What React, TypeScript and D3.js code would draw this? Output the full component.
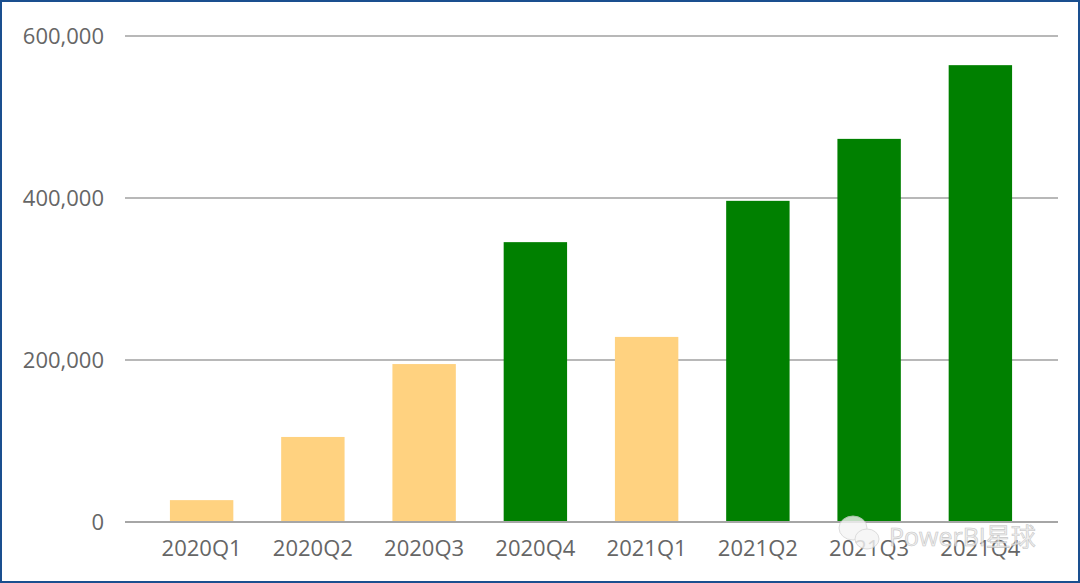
import React, { useEffect, useRef } from "react";
import * as d3 from "d3";

const quarters = ["2020Q1", "2020Q2", "2020Q3", "2020Q4", "2021Q1", "2021Q2", "2021Q3", "2021Q4"];
const sales = [27000, 105000, 195000, 345500, 228500, 396500, 473000, 564000];
const highlighted = [false, false, false, true, false, true, true, true];
const yTicks = [0, 200000, 400000, 600000];

const W = 1080;
const H = 583;

export default function App() {
  const ref = useRef<SVGSVGElement | null>(null);

  useEffect(() => {
    const svg = d3.select(ref.current);
    svg.selectAll("*").remove();

    const x = d3
      .scaleBand<string>()
      .domain(quarters)
      .range([146, 1036])
      .paddingInner(0.43)
      .paddingOuter(0.215);
    const y = d3.scaleLinear().domain([0, 600000]).range([522, 36]);

    svg.append("rect").attr("width", W).attr("height", H).attr("fill", "#fff");

    // gridlines
    svg
      .append("g")
      .selectAll("line")
      .data(yTicks)
      .join("line")
      .attr("x1", 125)
      .attr("x2", 1058)
      .attr("y1", (d) => y(d))
      .attr("y2", (d) => y(d))
      .attr("stroke", (d) => (d === 0 ? "#a6a6a6" : "#a0a0a0"))
      .attr("stroke-width", (d) => (d === 0 ? 2 : 1.3));

    // y labels
    svg
      .append("g")
      .selectAll("text")
      .data(yTicks)
      .join("text")
      .attr("x", 104)
      .attr("y", (d) => y(d))
      .attr("dy", "0.36em")
      .attr("text-anchor", "end")
      .attr("font-family", "'Open Sans', sans-serif")
      .attr("font-size", 22)
      .attr("fill", "#666")
      .text((d) => d3.format(",")(d));

    // bars
    svg
      .append("g")
      .selectAll("rect")
      .data(quarters)
      .join("rect")
      .attr("x", (d) => x(d)!)
      .attr("width", x.bandwidth())
      .attr("y", (_, i) => y(sales[i]))
      .attr("height", (_, i) => y(0) - y(sales[i]) - 1)
      .attr("fill", (_, i) => (highlighted[i] ? "#008000" : "#FFD280"));

    // x labels
    svg
      .append("g")
      .selectAll("text")
      .data(quarters)
      .join("text")
      .attr("x", (d) => x(d)! + x.bandwidth() / 2)
      .attr("y", 556)
      .attr("text-anchor", "middle")
      .attr("font-family", "'Open Sans', sans-serif")
      .attr("font-size", 22)
      .attr("fill", "#666")
      .text((d) => d);

    // watermark
    const wm = svg.append("g").attr("opacity", 0.8);
    wm.append("ellipse").attr("cx", 853).attr("cy", 528).attr("rx", 14).attr("ry", 12)
      .attr("fill", "#f4f4f4").attr("stroke", "#d4d4d4");
    wm.append("ellipse").attr("cx", 867).attr("cy", 539).attr("rx", 12).attr("ry", 10)
      .attr("fill", "#f4f4f4").attr("stroke", "#d4d4d4");
    wm.append("text")
      .attr("x", 889)
      .attr("y", 546)
      .attr("font-family", "'Open Sans', 'Noto Sans CJK SC', sans-serif")
      .attr("font-size", 25)
      .attr("fill", "#ececec")
      .attr("stroke", "#b8b8b8")
      .attr("stroke-width", 0.6)
      .text("PowerBI星球");

    // frame
    svg.append("rect").attr("x", 1).attr("y", 1).attr("width", W - 2).attr("height", H - 2)
      .attr("fill", "none").attr("stroke", "#1a4f8f").attr("stroke-width", 2);
  }, []);

  return (
    <div style={{ position: "absolute", left: 0, top: 0 }}>
      <svg ref={ref} width={W} height={H} style={{ display: "block" }} />
    </div>
  );
}
